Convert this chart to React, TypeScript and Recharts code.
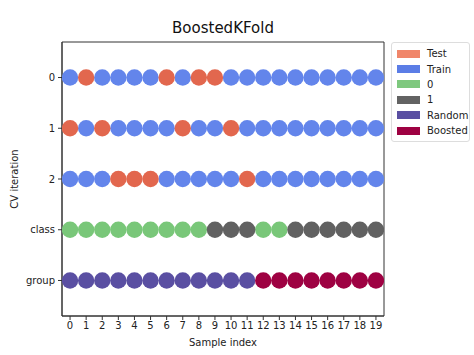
import { ReferenceArea, Scatter, ScatterChart, XAxis, YAxis } from "recharts";

// sample indices on the x axis
const sampleIndex = [0, 1, 2, 3, 4, 5, 6, 7, 8, 9, 10, 11, 12, 13, 14, 15, 16, 17, 18, 19];

// rows from top to bottom
const rowLabels = ["0", "1", "2", "class", "group"];

// 1 = test, 0 = train, per CV iteration
const cv0 = [0, 1, 0, 0, 0, 0, 1, 0, 1, 1, 0, 0, 0, 0, 0, 0, 0, 0, 0, 0];
const cv1 = [1, 0, 1, 0, 0, 0, 0, 1, 0, 0, 1, 0, 0, 0, 0, 0, 0, 0, 0, 0];
const cv2 = [0, 0, 0, 1, 1, 1, 0, 0, 0, 0, 0, 1, 0, 0, 0, 0, 0, 0, 0, 0];
const classes = [0, 0, 0, 0, 0, 0, 0, 0, 0, 1, 1, 1, 0, 0, 1, 1, 1, 1, 1, 1];
const groups = ["Random", "Random", "Random", "Random", "Random", "Random", "Random", "Random", "Random", "Random", "Random", "Random",
  "Boosted", "Boosted", "Boosted", "Boosted", "Boosted", "Boosted", "Boosted", "Boosted"];

const legendItems = [
  { name: "Test", color: "#f0866a" },
  { name: "Train", color: "#5b7de6" },
  { name: "0", color: "#7ec87e" },
  { name: "1", color: "#636363" },
  { name: "Random", color: "#5a4fa2" },
  { name: "Boosted", color: "#9e0142" },
];

const DOT = {
  test: "#e2674e",
  train: "#6385eb",
  c0: "#79c779",
  c1: "#616161",
  random: "#5a4fa2",
  boosted: "#9e0142",
};

type Pt = { x: number; y: number };

function pick(values: (number | string)[], match: number | string, row: number): Pt[] {
  const out: Pt[] = [];
  values.forEach((v, i) => {
    if (v === match) out.push({ x: sampleIndex[i], y: row });
  });
  return out;
}

const cvRows = [cv0, cv1, cv2];
const testPts = cvRows.flatMap((r, k) => pick(r, 1, k));
const trainPts = cvRows.flatMap((r, k) => pick(r, 0, k));
const class0Pts = pick(classes, 0, 3);
const class1Pts = pick(classes, 1, 3);
const randomPts = pick(groups, "Random", 4);
const boostedPts = pick(groups, "Boosted", 4);

const FONT = "'DejaVu Sans', sans-serif";

const dot = (color: string) => (props: any) => (
  <circle cx={props.cx} cy={props.cy} r={8.2} fill={color} />
);

export default function App() {
  const tick = { fontSize: 10, fill: "#222", fontFamily: FONT };
  return (
    <div style={{ position: "absolute", left: 0, top: 0, width: 474, height: 355, background: "#fff", fontFamily: FONT }}>
      <div style={{ position: "absolute", left: 62, width: 322, top: 19, textAlign: "center", fontSize: 15, color: "#111" }}>
        BoostedKFold
      </div>
      <ScatterChart width={474} height={355} margin={{ top: 42, right: 90, bottom: 0, left: 0 }}>
        <XAxis
          type="number"
          dataKey="x"
          domain={[-0.5, 19.5]}
          ticks={sampleIndex}
          interval={0}
          allowDataOverflow
          height={39}
          tick={tick}
          tickSize={4}
          tickMargin={2}
          stroke="#333"
          label={{ value: "Sample index", position: "insideBottom", offset: 9, fontSize: 10, fill: "#222", fontFamily: FONT }}
        />
        <YAxis
          type="number"
          dataKey="y"
          domain={[-0.7, 4.7]}
          reversed
          ticks={[0, 1, 2, 3, 4]}
          interval={0}
          allowDataOverflow
          width={62}
          tick={tick}
          tickSize={4}
          tickMargin={3}
          stroke="#333"
          tickFormatter={(v: number) => rowLabels[v] ?? ""}
          label={{ value: "CV iteration", angle: -90, position: "insideLeft", offset: 14, fontSize: 10, fill: "#222", fontFamily: FONT, style: { textAnchor: "middle" } }}
        />
        <ReferenceArea x1={-0.5} x2={19.5} y1={-0.7} y2={4.7} fill="none" stroke="#333" strokeWidth={1} ifOverflow="visible" />
        <Scatter data={trainPts} shape={dot(DOT.train)} isAnimationActive={false} />
        <Scatter data={testPts} shape={dot(DOT.test)} isAnimationActive={false} />
        <Scatter data={class0Pts} shape={dot(DOT.c0)} isAnimationActive={false} />
        <Scatter data={class1Pts} shape={dot(DOT.c1)} isAnimationActive={false} />
        <Scatter data={randomPts} shape={dot(DOT.random)} isAnimationActive={false} />
        <Scatter data={boostedPts} shape={dot(DOT.boosted)} isAnimationActive={false} />
      </ScatterChart>
      <div
        style={{
          position: "absolute",
          left: 391,
          top: 42,
          width: 77,
          border: "1px solid #ddd",
          borderRadius: 3,
          padding: "3px 0 3px 0",
          fontSize: 10,
          color: "#222",
        }}
      >
        {legendItems.map((it) => (
          <div key={it.name} style={{ display: "flex", alignItems: "center", height: 15.4 }}>
            <span style={{ display: "inline-block", width: 23, height: 8, background: it.color, marginLeft: 5, marginRight: 7 }} />
            {it.name}
          </div>
        ))}
      </div>
    </div>
  );
}
